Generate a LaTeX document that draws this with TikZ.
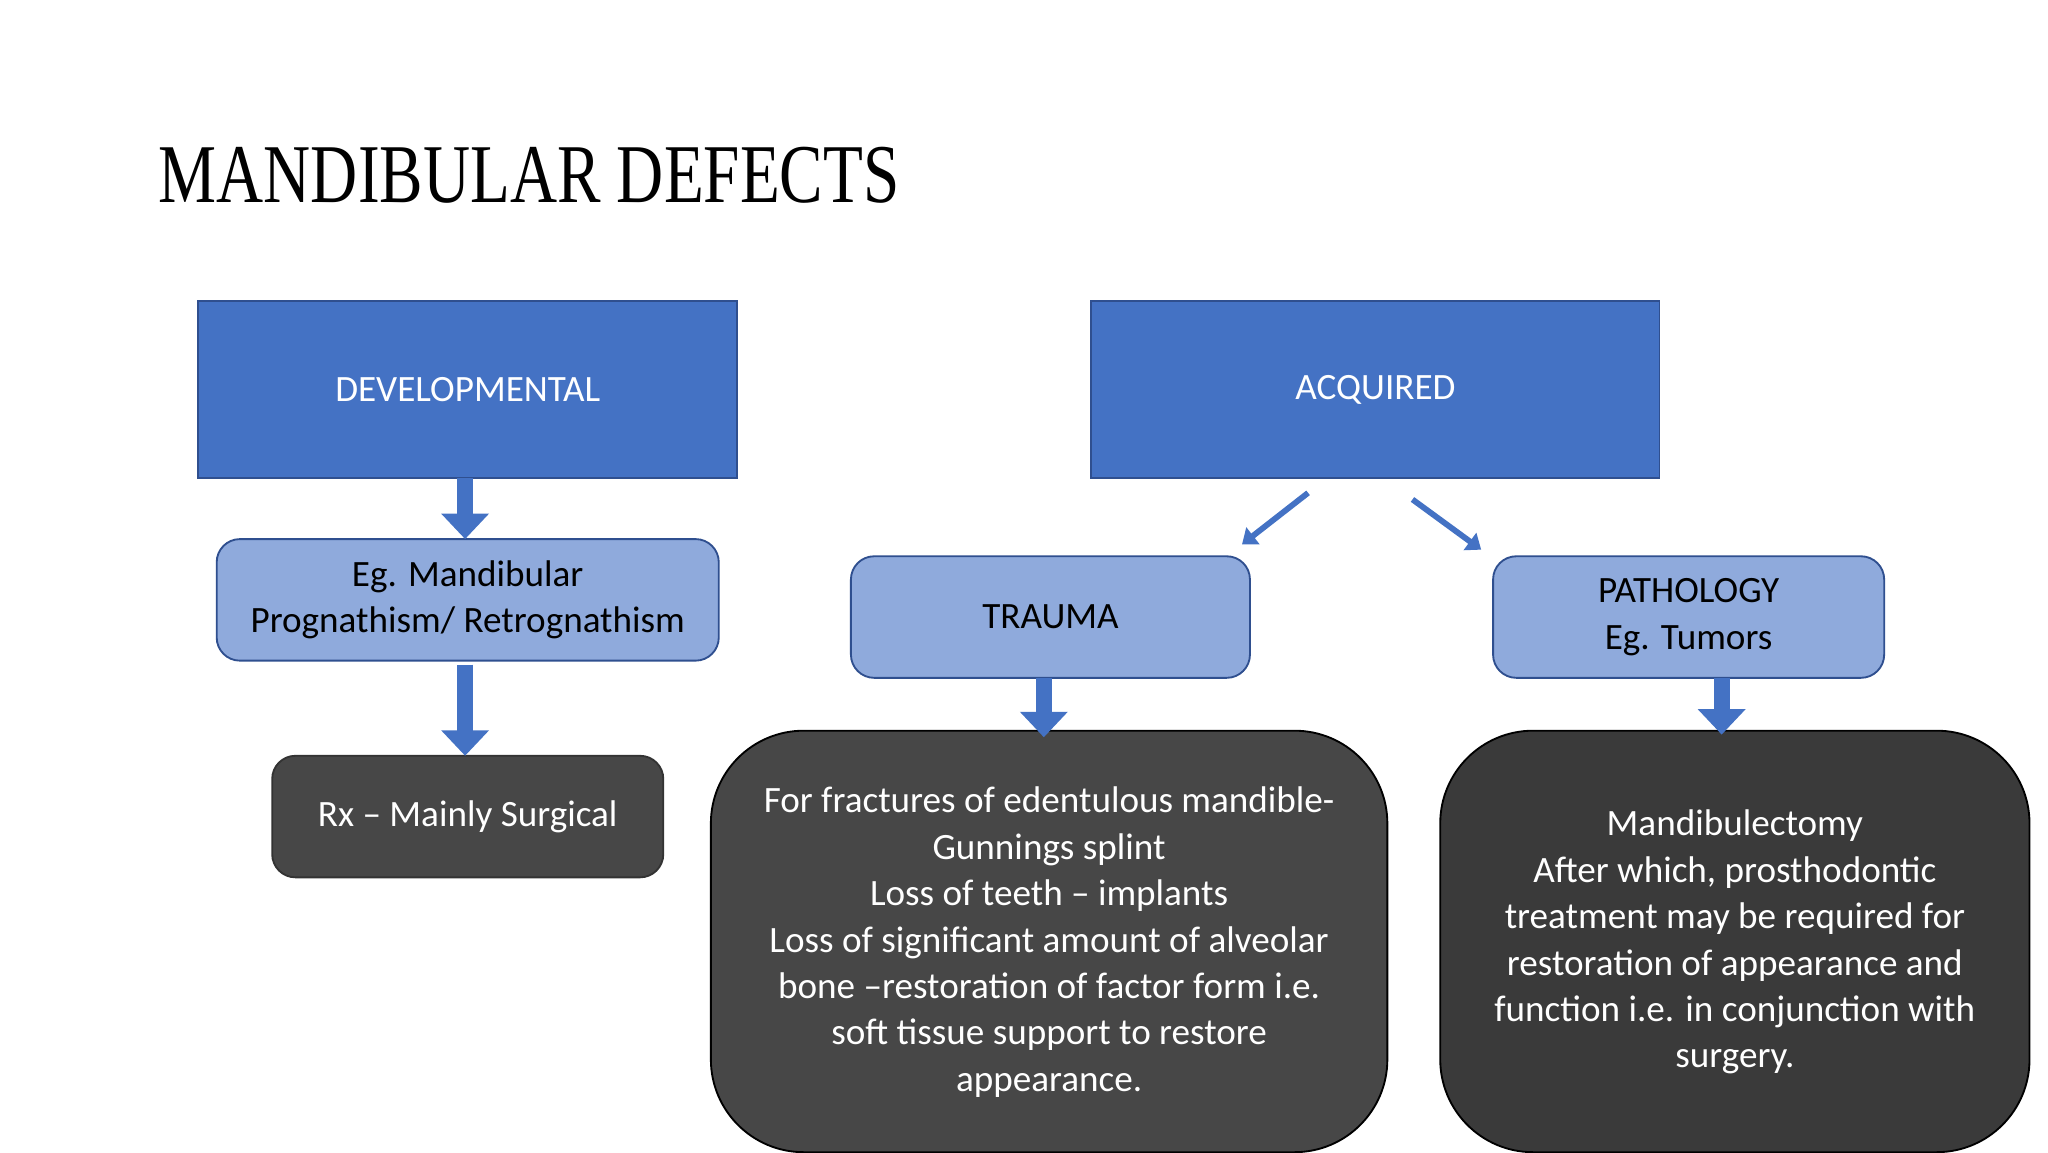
\documentclass[tikz,border=0pt]{standalone}
\usepackage{fontspec}
\setmainfont{Carlito}
\newfontfamily\titlefont{Liberation Serif}
\usetikzlibrary{arrows.meta}
\definecolor{topblue}{HTML}{4472C4}
\definecolor{lightblue}{HTML}{8FAADC}
\definecolor{edgeblue}{HTML}{2F4F8F}
\definecolor{darkbox}{HTML}{474747}
\definecolor{darkerbox}{HTML}{3A3A3A}
\tikzset{
  topbox/.style={draw=edgeblue, fill=topblue, text=white, line width=0.8pt},
  midbox/.style={draw=edgeblue, fill=lightblue, text=black, rounded corners=10pt, line width=0.8pt},
  lowbox/.style={draw=black!80, fill=darkbox, text=white, rounded corners=10pt, line width=0.8pt},
  bigbox/.style={draw=black, fill=darkbox, text=white, rounded corners=40pt, line width=0.8pt},
  blockarrow/.style={draw=topblue, line width=7pt, -{Triangle[width=20pt,length=11pt]}},
  thinarrow/.style={draw=topblue, line width=2.5pt, -{Triangle[width=9pt,length=6pt]}},
  txt/.style={font=\fontsize{16}{20}\selectfont, align=center}
}
\begin{document}
\begin{tikzpicture}[x=0.02cm, y=-0.02cm]
                \useasboundingbox (0,0) rectangle (1550,872);
                \fill[white] (0,0) rectangle (1550,872);

                \node[anchor=base west, inner sep=0pt, font=\titlefont\fontsize{36}{40}\selectfont, xscale=0.78] (title) at (120,153) {MANDIBULAR DEFECTS};

                % top boxes
                \draw[topbox] (150,228) rectangle (558,362);
                \node[txt, text=white] (dev) at (354,295) {DEVELOPMENTAL};
                \draw[topbox] (826,228) rectangle (1256,362);
                \node[txt, text=white] (acq) at (1041,295) {ACQUIRED};

                % middle boxes
                \draw[midbox] (164,408) rectangle (544,500);
                \node[txt] (eg) at (354,454) {Eg. Mandibular\\Prognathism/ Retrognathism};
                \draw[midbox] (644,421) rectangle (946,513);
                \node[txt] (trauma) at (795,467) {TRAUMA};
                \draw[midbox] (1130,421) rectangle (1426,513);
                \node[txt] (path) at (1278,467) {PATHOLOGY\\Eg. Tumors};

                % lower boxes
                \draw[lowbox] (206,572) rectangle (502,664);
                \node[txt, text=white] (rx) at (354,618) {Rx -- Mainly Surgical};
                \draw[bigbox] (538,553) rectangle (1050,872);
                \node[txt, text=white] (frac) at (794,713) {For fractures of edentulous mandible-\\Gunnings splint\\Loss of teeth -- implants\\Loss of significant amount of alveolar\\bone --restoration of factor form i.e.\\soft tissue support to restore\\appearance.};
                \draw[bigbox, fill=darkerbox] (1090,553) rectangle (1536,872);
                \node[txt, text=white] (mand) at (1313,713) {Mandibulectomy\\After which, prosthodontic\\treatment may be required for\\restoration of appearance and\\function i.e. in conjunction with\\surgery.};

                % connectors
                \coordinate (a1s) at (352,362);
                \coordinate (a1e) at (352,408);
                \coordinate (a2s) at (352,503);
                \coordinate (a2e) at (352,572);
                \coordinate (a3s) at (790,513);
                \coordinate (a3e) at (790,558);
                \coordinate (a4s) at (1303,513);
                \coordinate (a4e) at (1303,556);
                \coordinate (d1s) at (990,373);
                \coordinate (d1e) at (940,412);
                \coordinate (d2s) at (1069,378);
                \coordinate (d2e) at (1121,416);
                \draw[blockarrow] (a1s) -- (a1e);
                \draw[blockarrow] (a2s) -- (a2e);
                \draw[blockarrow] (a3s) -- (a3e);
                \draw[blockarrow] (a4s) -- (a4e);
                \draw[thinarrow] (d1s) -- (d1e);
                \draw[thinarrow] (d2s) -- (d2e);
\end{tikzpicture}
\end{document}
